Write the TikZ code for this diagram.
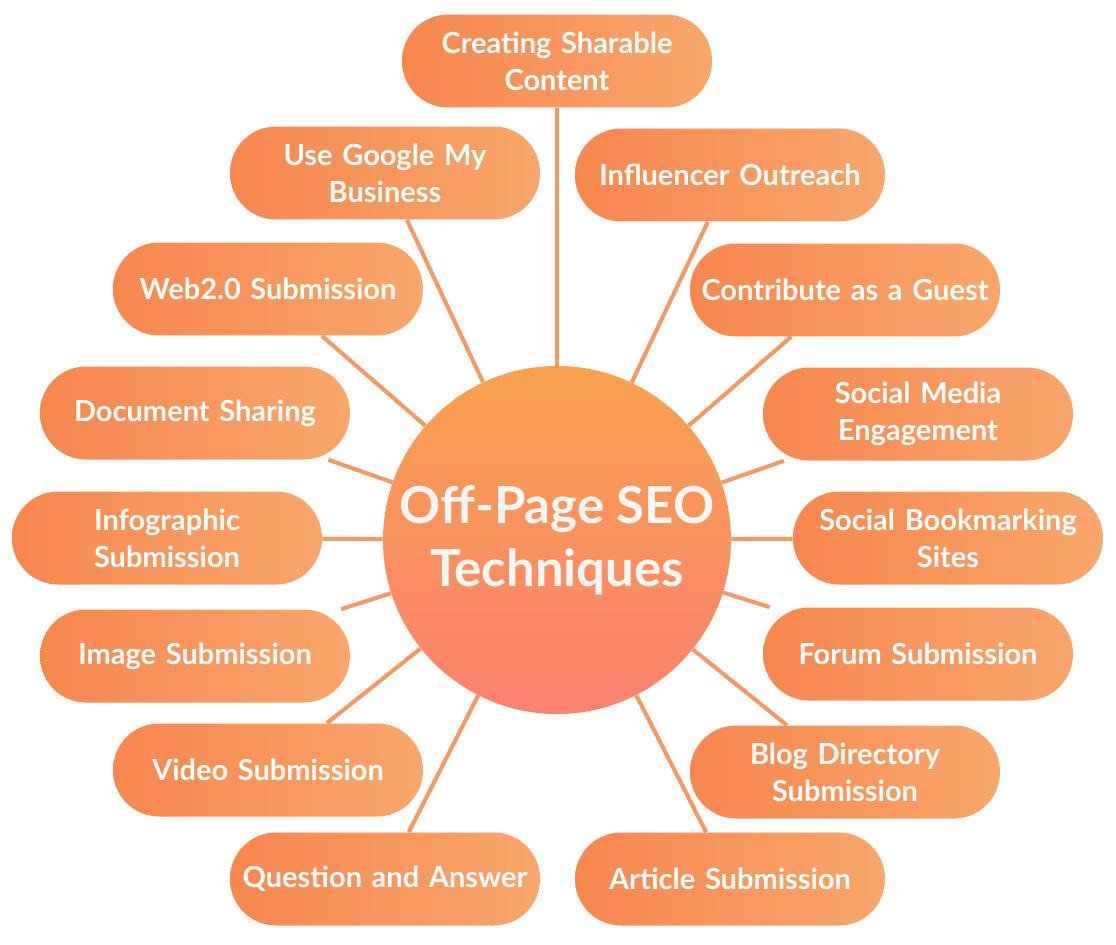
\documentclass[tikz,border=0pt]{standalone}
\usepackage{fontspec}
\setmainfont{Lato}
\usepackage{tikz}
\definecolor{pillL}{HTML}{F7874F}
\definecolor{pillR}{HTML}{F9A76C}
\definecolor{hubT}{HTML}{F8A24E}
\definecolor{hubB}{HTML}{FC8270}
\definecolor{spoke}{HTML}{F39A62}
\tikzset{
  pill/.style={rectangle, rounded corners=0.92cm, minimum width=6.2cm, minimum height=1.86cm,
    inner sep=0pt, left color=pillL, right color=pillR, draw=none, text=white,
    font=\fontsize{16.5}{21}\selectfont\bfseries, align=center, text width=5.9cm},
  hub/.style={circle, minimum size=6.76cm, top color=hubT, bottom color=hubB,
    text=white!94!gray, font=\fontsize{29}{36}\selectfont\bfseries, align=center},
  spokeline/.style={spoke, line width=2.3pt}
}
\begin{document}
\begin{tikzpicture}[x=0.02cm,y=-0.02cm]
\useasboundingbox (0,0) rectangle (1116,944);

\node[hub] (hub) at (557,540) {Off-Page SEO\\Techniques};

\node[pill] (share) at (557,61) {Creating Sharable\\Content};
\node[pill] (google) at (385,173) {Use Google My\\Business};
\node[pill] (influ) at (730,175) {Influencer Outreach};
\node[pill] (web) at (268,289) {Web2.0 Submission};
\node[pill] (guest) at (845,290) {Contribute as a Guest};
\node[pill] (doc) at (195,413) {Document Sharing};
\node[pill] (social) at (918,414) {Social Media\\Engagement};
\node[pill] (info) at (167,538) {Infographic\\Submission};
\node[pill] (bookm) at (948,538) {Social Bookmarking\\Sites};
\node[pill] (image) at (195,656) {Image Submission};
\node[pill] (forum) at (918,654) {Forum Submission};
\node[pill] (video) at (268,770) {Video Submission};
\node[pill] (blog) at (845,772) {Blog Directory\\Submission};
\node[pill] (qa) at (385,879) {Question and Answer};
\node[pill] (article) at (730,879) {Article Submission};

% spokes from the hub
\foreach \p in {share,google,influ,web,guest,doc,social,info,bookm,image,forum,video,blog,qa,article}
  \draw[spokeline] (hub) -- (\p);
\end{tikzpicture}
\end{document}
